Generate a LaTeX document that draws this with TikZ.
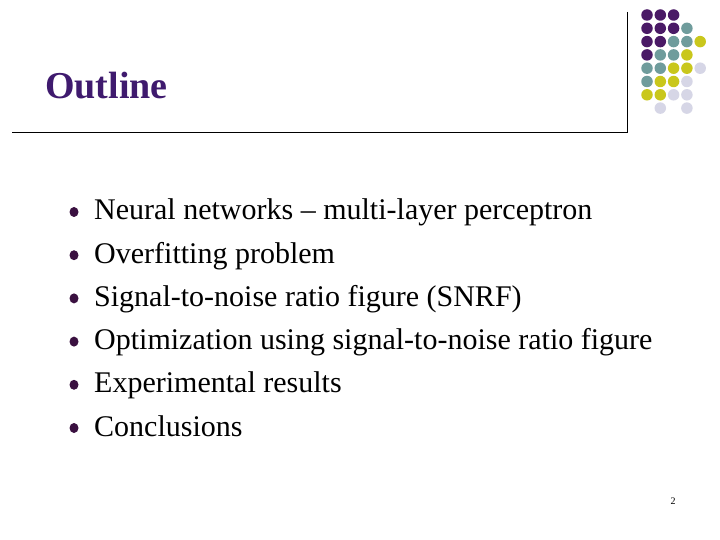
\documentclass[tikz,border=0pt]{standalone}
\usepackage{fontspec}
\setmainfont{Liberation Serif}
\usetikzlibrary{shapes.geometric}
\begin{document}
\begin{tikzpicture}[x=1pt,y=-1pt,
  txt/.style={anchor=base west,inner sep=0pt,font=\fontsize{30}{32}\selectfont},
  bul/.style={ellipse,fill=bl,inner sep=0pt,minimum width=9pt,minimum height=10pt}]
\definecolor{pp}{HTML}{4A1A66}
\definecolor{tt}{HTML}{6F9C9C}
\definecolor{yy}{HTML}{C9C71C}
\definecolor{ll}{HTML}{D6D6E6}
\definecolor{bl}{HTML}{3A1040}
\definecolor{tc}{HTML}{3F1A6E}
\useasboundingbox (0,0) rectangle (720,540);
\fill[white] (0,0) rectangle (720,540);
\coordinate (v1) at (627,12); \coordinate (v2) at (627,132); \coordinate (h1) at (12,132);
\draw[line width=0.8pt] (v1) -- (v2) -- (h1);
\node[anchor=base west,inner sep=0pt,text=tc,font=\fontsize{38}{42}\selectfont\bfseries] (title) at (45,99) {Outline};
\foreach \r/\cols in {0/{0/pp,1/pp,2/pp},1/{0/pp,1/pp,2/pp,3/tt},2/{0/pp,1/pp,2/tt,3/tt,4/yy},3/{0/pp,1/tt,2/tt,3/yy},4/{0/tt,1/tt,2/yy,3/yy,4/ll},5/{0/tt,1/yy,2/yy,3/ll},6/{0/yy,1/yy,2/ll,3/ll},7/{1/ll,3/ll}}{
  \foreach \c/\col in \cols {
    \node[circle,fill=\col,inner sep=0pt,minimum size=11.5pt] (d\r\c) at (647+13.3*\c,15+13.3*\r) {};
  }
}
\foreach \i/\t in {0/{Neural networks – multi-layer perceptron},1/{Overfitting problem},2/{Signal-to-noise ratio figure (SNRF)},3/{Optimization using signal-to-noise ratio figure},4/{Experimental results},5/{Conclusions}}{
  \node[bul] (b\i) at (74,212+43.2*\i) {};
  \node[txt] (t\i) at (94,220+43.2*\i) {\t};
}
\node[font=\fontsize{10}{11}\selectfont] (pg) at (673,501) {2};
\end{tikzpicture}
\end{document}
